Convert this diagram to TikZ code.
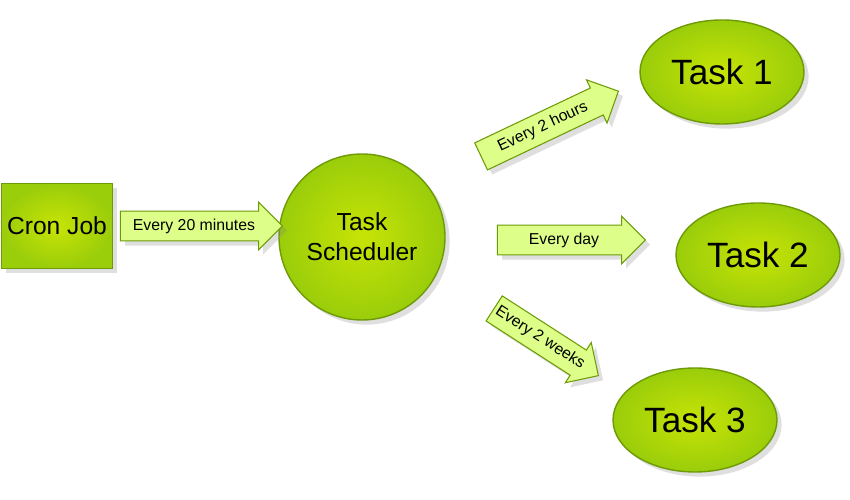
\documentclass[tikz,border=0pt]{standalone}
\usepackage{fontspec}
\setmainfont{Liberation Sans}
\usetikzlibrary{shapes.arrows,shadows}
\definecolor{leaf}{HTML}{9ACD0A}
\definecolor{leafdark}{HTML}{6E9A08}
\definecolor{pale}{HTML}{DDFF8A}
\tikzset{blob/.style={draw=leafdark,line width=0.8pt,inner color=leaf!55!yellow,outer color=leaf,drop shadow={opacity=0.25}},
  task/.style={blob,ellipse,minimum width=3.28cm,minimum height=2.08cm,font=\fontsize{20}{22}\selectfont},
  flow/.style={single arrow,draw=leafdark,fill=pale,line width=0.6pt,minimum height=#1,single arrow head extend=0.18cm,
    minimum width=0.95cm,inner xsep=1pt,inner ysep=4pt,font=\fontsize{9}{10}\selectfont,drop shadow={opacity=0.25}}}
\usetikzlibrary{shapes.geometric}
\begin{document}
\begin{tikzpicture}
\useasboundingbox (0,0) rectangle (17,10);
\node[blob,rectangle,minimum width=2.2cm,minimum height=1.7cm,font=\fontsize{14}{16}\selectfont] (cron) at (1.14,5.48) {Cron Job};
\node[blob,circle,minimum size=3.32cm,align=center,font=\fontsize{14}{17}\selectfont] (sched) at (7.24,5.26) {Task\\Scheduler};
\node[task] (t1) at (14.44,8.56) {Task 1};
\node[task] (t2) at (15.16,4.9) {Task 2};
\node[task] (t3) at (13.9,1.6) {Task 3};
% connectors
\node[flow=3.24cm] (a0) at (3.88,5.48) {Every 20 minutes};
\node[flow=3.04cm,rotate=25.4] (a1) at (10.86,7.46) {Every 2 hours};
\node[flow=2.96cm] (a2) at (11.28,5.2) {Every day};
\node[flow=2.48cm,rotate=-32.8] (a3) at (10.8,3.24) {Every 2 weeks};
\end{tikzpicture}
\end{document}
